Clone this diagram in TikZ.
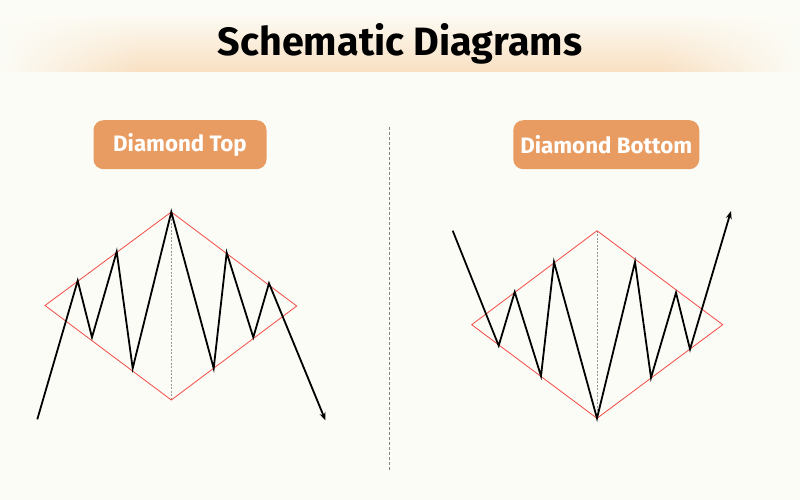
\documentclass[tikz,border=0pt]{standalone}
\usepackage{fontspec}
\setmainfont{Fira Sans}
\usetikzlibrary{arrows.meta,fadings}
\definecolor{bg}{HTML}{FCFCF6}
\definecolor{peach}{HTML}{F9E0C2}
\definecolor{badge}{HTML}{E89C62}
\definecolor{dred}{HTML}{F24A45}
\tikzfading[name=fadeL, left color=transparent!0, right color=transparent!100]
\tikzfading[name=fadeR, left color=transparent!100, right color=transparent!0]
\begin{document}
\begin{tikzpicture}[x=1pt,y=-1pt,
  badgebox/.style={fill=badge, rounded corners=10pt, minimum height=49pt, inner sep=0pt,
    text=white, font=\bfseries\fontsize{22.3}{26}\selectfont},
  titletext/.style={font=\bfseries\fontsize{39.5}{42}\selectfont, text=black, inner sep=0pt},
  redline/.style={draw=dred, line width=0.8pt},
  zig/.style={draw=black, line width=1.8pt, line join=miter},
  zigarrow/.style={zig, -{Stealth[length=8pt,width=6pt]}},
  axisline/.style={draw=gray!80, line width=0.7pt, dash pattern=on 2pt off 1.5pt},
  divider/.style={draw=gray, line width=0.8pt, dash pattern=on 3pt off 2pt}]
\fill[bg] (0,0) rectangle (800,500);
\useasboundingbox (0,0) rectangle (800,500);
% title band
\shade[top color=bg, bottom color=peach] (0,12) rectangle (800,72);
\fill[bg, path fading=fadeL] (0,11) rectangle (140,73);
\fill[bg, path fading=fadeR] (660,11) rectangle (800,73);
\node[titletext, anchor=base] (title) at (400,56) {Schematic Diagrams};
% divider
\coordinate (dtop) at (389.5,127);
\coordinate (dbot) at (389.5,472);
\draw[divider] (dtop) -- (dbot);
% badges
\node[badgebox, minimum width=173pt] (btop) at (180,144.7) {Diamond Top};
\node[badgebox, minimum width=186pt] (bbot) at (606.3,144.7) {Diamond Bottom};

% ---- Diamond Top ----
\coordinate (LT) at (171.3,212);
\coordinate (LL) at (45,305.5);
\coordinate (LR) at (296.7,306);
\coordinate (LB) at (171.3,400);
\draw[axisline] (LT) -- (LB);
\draw[redline] (LT) -- (LR) -- (LB) -- (LL) -- cycle;
\coordinate (a0) at (37.3,419.3);
\coordinate (a1) at (77.7,280.7);
\coordinate (a2) at (92,337.3);
\coordinate (a3) at (116.7,251.7);
\coordinate (a4) at (132.7,368.3);
\coordinate (a5) at (213.7,368.3);
\coordinate (a6) at (226.7,252.7);
\coordinate (a7) at (253.3,337.3);
\coordinate (a8) at (269,283.3);
\coordinate (a9) at (325.5,420.5);
\draw[zigarrow] (a0) -- (a1) -- (a2) -- (a3) -- (a4) -- (LT) -- (a5) -- (a6) -- (a7) -- (a8) -- (a9);

% ---- Diamond Bottom ----
\coordinate (RT) at (597,230.7);
\coordinate (RL) at (471.7,324.7);
\coordinate (RR) at (722.7,324.7);
\coordinate (RB) at (597,418.3);
\draw[axisline] (RT) -- (RB);
\draw[redline] (RT) -- (RR) -- (RB) -- (RL) -- cycle;
\coordinate (b0) at (452.7,230.7);
\coordinate (b1) at (498.7,345.7);
\coordinate (b2) at (514.7,292);
\coordinate (b3) at (541,376);
\coordinate (b4) at (554,262);
\coordinate (b5) at (635,262);
\coordinate (b6) at (651,377.7);
\coordinate (b7) at (676,292.7);
\coordinate (b8) at (690,349.3);
\coordinate (b9) at (731,211);
\draw[zigarrow] (b0) -- (b1) -- (b2) -- (b3) -- (b4) -- (RB) -- (b5) -- (b6) -- (b7) -- (b8) -- (b9);
\end{tikzpicture}
\end{document}
